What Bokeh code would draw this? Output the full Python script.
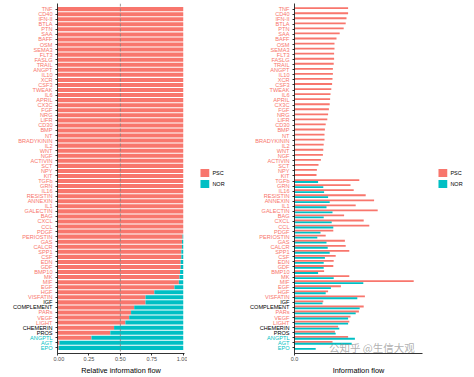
from bokeh.plotting import figure
from bokeh.models import (ColumnDataSource, FactorRange, Span, Legend,
                          FixedTicker, NumeralTickFormatter)
from bokeh.layouts import row
from bokeh.transform import dodge
from bokeh.core.properties import value
from bokeh.embed import file_html
from bokeh.resources import INLINE

# ---------------- data ----------------
pathways = ["TNF", "CD40", "IFN-II", "BTLA", "PTN", "SAA", "BAFF", "OSM", "SEMA3", "FLT3",
            "FASLG", "TRAIL", "ANGPT", "IL10", "XCR", "CSF3", "TWEAK", "IL6", "APRIL", "CX3C",
            "FGF", "NRG", "LIFR", "CD30", "BMP", "NT", "BRADYKININ", "IL2", "WNT", "NGF",
            "ACTIVIN", "SCT", "NPY", "KIT", "TGFb", "GRN", "IL16", "RESISTIN", "ANNEXIN", "IL1",
            "GALECTIN", "BAG", "CXCL", "CCL", "PDGF", "PERIOSTIN", "GAS", "CALCR", "SPP1", "CSF",
            "EDN", "GDF", "BMP10", "MK", "MIF", "EGF", "HGF", "VISFATIN", "IGF", "COMPLEMENT",
            "PARs", "VEGF", "LIGHT", "CHEMERIN", "PROS", "ANGPTL", "AGT", "EPO"]

# which group a pathway is enriched in ("ns" = not significant)
enriched = ["PSC"] * 58 + ["ns", "ns", "PSC", "PSC", "PSC", "ns", "ns", "NOR", "NOR", "NOR"]

groups = ["PSC", "NOR"]

# relative information flow (left panel)
psc_rel = [1.0] * 45 + [0.995, 0.99, 0.99, 0.985, 0.985, 0.98, 0.98, 0.975, 0.97, 0.965,
                        0.93, 0.77, 0.70, 0.70, 0.61, 0.585, 0.57, 0.54, 0.45, 0.42,
                        0.27, 0.016, 0.01]
nor_rel = [0.0] * 45 + [0.005, 0.01, 0.01, 0.015, 0.015, 0.02, 0.02, 0.025, 0.03, 0.035,
                        0.07, 0.23, 0.30, 0.30, 0.39, 0.415, 0.43, 0.46, 0.55, 0.58,
                        0.73, 0.984, 0.99]

# information flow (right panel)
psc_flow = [1.34, 1.34, 1.30, 1.28, 1.23, 1.13, 1.05, 1.00, 1.00, 0.99,
            0.99, 0.98, 0.96, 0.96, 0.95, 0.94, 0.92, 0.90, 0.89, 0.88,
            0.86, 0.84, 0.82, 0.78, 0.76, 0.75, 0.75, 0.73, 0.72, 0.71,
            0.66, 0.60, 0.56, 0.55, 1.62, 1.40, 1.48, 1.78, 1.99, 1.53,
            2.08, 1.24, 1.73, 1.87, 0.97, 0.78, 1.26, 1.28, 1.37, 1.03,
            0.98, 0.97, 0.74, 1.37, 2.98, 1.16, 0.84, 1.76, 0.72, 1.73,
            1.61, 1.40, 1.37, 1.09, 1.01, 1.34, 0.95, 0.00]
nor_flow = [0.0] * 34 + [0.59, 0.72, 0.74, 0.84, 0.88, 0.80,
                         0.95, 0.73, 0.93, 0.97, 0.65, 0.57, 0.80, 0.83, 0.88, 0.76,
                         0.73, 0.73, 0.59, 0.98, 1.72, 0.91, 0.78, 1.57, 0.70, 1.63,
                         1.53, 1.34, 1.34, 1.12, 1.03, 1.51, 1.43, 0.53]

watermark = ["公知乎 @生信大观"]
watermark_at = (["EPO"], [0.86])

# ---------------- styles ----------------
FONT = "Liberation Sans"
COL = {"PSC": "#F8766D", "NOR": "#00BFC4"}
LABEL_COL = {"PSC": "#F8766D", "ns": "black", "NOR": "#00BFC4"}
H = 377
TOP, BOTTOM = 3, 23

factors = pathways[::-1]  # first factor is drawn at the bottom
yr = FactorRange(factors=factors, range_padding=0.018)

src = ColumnDataSource(dict(pathway=pathways, PSC=psc_rel, NOR=nor_rel,
                            psc_flow=psc_flow, nor_flow=nor_flow,
                            lab_color=[LABEL_COL[e] for e in enriched]))


def bare_fig(width, **kw):
    f = figure(width=width, height=H, x_axis_location=None, y_axis_location=None,
               min_border_left=0, min_border_right=0,
               min_border_top=TOP, min_border_bottom=BOTTOM,
               output_backend="svg", toolbar_location=None, **kw)
    f.outline_line_color = None
    f.xgrid.grid_line_color = None
    f.ygrid.grid_line_color = None
    return f


def label_fig(width):
    f = bare_fig(width, y_range=yr, x_range=(0, 1))
    f.text(x=1, y="pathway", text="pathway", source=src, x_offset=-1,
           text_align="right", text_baseline="middle",
           text_font=value(FONT), text_font_size="5.6px", text_color="lab_color")
    return f


def legend_fig(width):
    f = bare_fig(width, x_range=(0, 1), y_range=(0, 1))
    # key glyphs only: zero-size bars, so only the legend swatches show
    rs = [f.hbar(y=[0.5], left=[0], right=[0], height=0, color=COL[g], line_color=None)
          for g in groups]
    leg = Legend(items=[(g, [r]) for g, r in zip(groups, rs)],
                 location="center", orientation="vertical",
                 label_text_font=FONT, label_text_font_size="5.5px",
                 label_text_color="black",
                 glyph_width=11, glyph_height=10, label_height=10, label_width=12,
                 label_standoff=3, spacing=1, padding=1, margin=0,
                 border_line_color=None, background_fill_alpha=0)
    f.add_layout(leg)
    return f


def style(p, xlabel, fmt):
    p.outline_line_color = None
    p.xgrid.grid_line_color = None
    p.ygrid.grid_line_color = None
    for ax in (p.xaxis[0], p.yaxis[0]):
        ax.axis_line_color = "black"
        ax.axis_line_width = 0.8
        ax.major_tick_line_color = "black"
        ax.major_tick_line_width = 0.8
        ax.major_tick_out = 2
        ax.major_tick_in = 0
        ax.minor_tick_line_color = None
    p.yaxis.major_label_text_font_size = "0px"
    p.yaxis.major_label_text_color = None
    p.yaxis.major_label_standoff = 0
    p.xaxis.major_label_text_font = FONT
    p.xaxis.major_label_text_font_size = "5.5px"
    p.xaxis.major_label_text_color = "#4d4d4d"
    p.xaxis.major_label_standoff = 1
    p.xaxis.formatter = NumeralTickFormatter(format=fmt)
    p.xaxis.axis_label = xlabel
    p.xaxis.axis_label_text_font = FONT
    p.xaxis.axis_label_text_font_style = "normal"
    p.xaxis.axis_label_text_font_size = "7.3px"
    p.xaxis.axis_label_text_color = "black"
    p.xaxis.axis_label_standoff = 2


# ---------------- left: relative information flow ----------------
lab1 = label_fig(53)
p1 = figure(width=134, height=H, y_range=yr, x_range=(0, 1.01),
            min_border_left=4, min_border_right=3,
            min_border_top=TOP, min_border_bottom=BOTTOM,
            output_backend="svg", toolbar_location=None)
p1.hbar_stack(groups, y="pathway", height=0.8, color=[COL[g] for g in groups],
              line_color=None, source=src)
p1.add_layout(Span(location=0.5, dimension="height", line_color="#808080",
                   line_width=0.8, line_dash="3 2"))
style(p1, "Relative information flow", "0.00")
p1.xaxis.ticker = FixedTicker(ticks=[0, 0.25, 0.5, 0.75, 1.0])
leg1 = legend_fig(49)

# ---------------- right: information flow ----------------
lab2 = label_fig(54)
p2 = figure(width=135, height=H, y_range=yr, x_range=(0, 3.2),
            min_border_left=4, min_border_right=3,
            min_border_top=TOP, min_border_bottom=BOTTOM,
            output_backend="svg", toolbar_location=None)
p2.hbar(y=dodge("pathway", 0.19, range=yr), left=0, right="psc_flow",
        height=0.36, color=COL["PSC"], line_color=None, source=src)
p2.hbar(y=dodge("pathway", -0.19, range=yr), left=0, right="nor_flow",
        height=0.36, color=COL["NOR"], line_color=None, source=src)
style(p2, "Information flow", "0.0")
p2.xaxis.ticker = FixedTicker(ticks=[0])

# watermark seen on the reference image
wm = ColumnDataSource(dict(y=watermark_at[0], x=watermark_at[1], t=watermark))
p2.text(x="x", y="y", text="t", source=wm, text_align="left", text_baseline="middle",
        text_font=value("Noto Sans CJK SC"), text_font_size="10.5px",
        text_color="#8c8c8c", text_alpha=0.7)
leg2 = legend_fig(49)

layout = row(lab1, p1, leg1, lab2, p2, leg2, spacing=0)
open("out.html", "w").write(file_html(layout, INLINE))
